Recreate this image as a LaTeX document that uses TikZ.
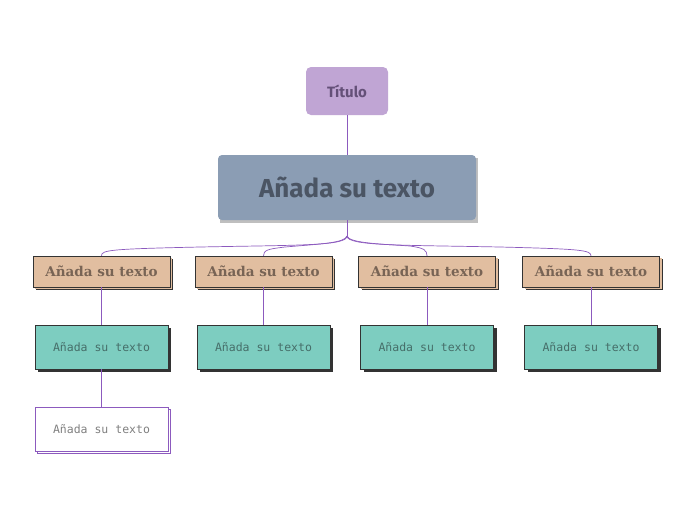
\documentclass[tikz,border=0pt]{standalone}
\usepackage{fontspec}
\setmainfont{DejaVu Serif}
\newfontfamily\titlefont{Fira Sans}
\newfontfamily\monofont{DejaVu Sans Mono}
\definecolor{tanf}{RGB}{225,190,160}
\definecolor{tant}{RGB}{120,100,85}
\definecolor{tealf}{RGB}{125,205,192}
\definecolor{tealt}{RGB}{70,110,105}
\definecolor{titf}{RGB}{192,165,212}
\definecolor{titt}{RGB}{100,80,120}
\definecolor{mainf}{RGB}{139,157,180}
\definecolor{maint}{RGB}{75,85,100}
\definecolor{lin}{RGB}{140,90,190}
\begin{document}
\begin{tikzpicture}[x=1pt,y=-1pt,
  conn/.style={draw=lin, line width=0.7pt},
  tanbox/.style={draw=black!80, fill=tanf, minimum width=137pt, minimum height=31pt, inner sep=0pt, font=\bfseries\fontsize{13.5}{16}\selectfont, text=tant},
  tealbox/.style={draw=black!80, fill=tealf, minimum width=133pt, minimum height=44pt, inner sep=0pt, font=\monofont\fontsize{11.5}{13}\selectfont, text=tealt},
  whitebox/.style={draw=lin, fill=white, minimum width=133pt, minimum height=44pt, inner sep=0pt, font=\monofont\fontsize{11.5}{13}\selectfont, text=black!50}
]
\useasboundingbox (0,0) rectangle (696,520);
\fill[white] (0,0) rectangle (696,520);
\node[fill=titf, rounded corners=5pt, minimum width=82pt, minimum height=48pt, font=\titlefont\bfseries\fontsize{15}{17}\selectfont, text=titt] (t) at (347,91) {Título};
\fill[black!25] (220,158) rectangle (478,223);
\node[fill=mainf, rounded corners=4pt, minimum width=258pt, minimum height=65pt, font=\titlefont\bfseries\fontsize{26}{30}\selectfont, text=maint] (m) at (347,187.5) {Añada su texto};
\draw[conn] (t.south) -- (m.north);
\coordinate (j) at (347,236);
\draw[conn] (m.south) -- (j);
\foreach \n/\x in {a/101.5,b/263.5,c/427,d/591}{
  \fill[black!80] (\x-65.5,259) rectangle (\x+71.5,290);
  \fill[tanf] (\x-66.5,258) rectangle (\x+70.5,289);
  \node[tanbox] (\n) at (\x,271.5) {Añada su texto};
}
\foreach \n/\x in {a/101.5,b/263.5,c/427,d/591}{
  \fill[black!80] (\x-63.5,328) rectangle (\x+69.5,372);
  \node[tealbox] (\n2) at (\x,347) {Añada su texto};
  \draw[conn] (\n.south) -- (\n2.north);
}
\draw[lin] (37,409) rectangle (170,453);
\node[whitebox] (a3) at (101.5,429) {Añada su texto};
\draw[conn] (a2.south) -- (a3.north);
\draw[conn] (j) .. controls (347,246) and (300,245) .. (200,247) .. controls (110,249) and (101.5,250) .. (a.north);
\draw[conn] (j) .. controls (345,243) and (320,244) .. (285,247) .. controls (268,249) and (263.5,250) .. (b.north);
\draw[conn] (j) .. controls (349,243) and (380,244) .. (410,246) .. controls (424,248) and (427,250) .. (c.north);
\draw[conn] (j) .. controls (347,246) and (400,245) .. (500,247) .. controls (580,249) and (591,250) .. (d.north);
\end{tikzpicture}
\end{document}
